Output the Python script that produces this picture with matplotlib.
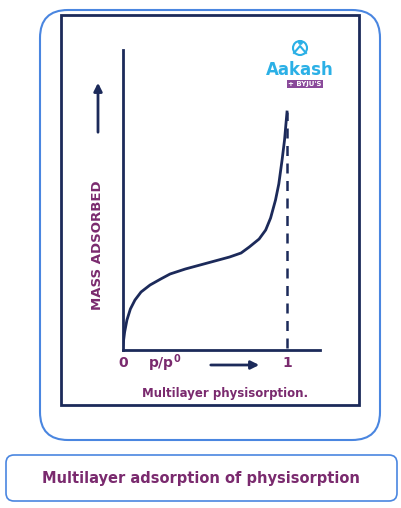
import matplotlib.pyplot as plt
from matplotlib.patches import FancyBboxPatch, Rectangle, Circle

# curve (p/p0, mass adsorbed)
p_rel = [0.0, 0.01, 0.024, 0.045, 0.073, 0.11, 0.165, 0.23, 0.287, 0.38, 0.47, 0.56, 0.65, 0.72, 0.77,
         0.83, 0.87, 0.90, 0.93, 0.95, 0.97, 0.985, 1.0]
mass = [0.05, 0.18, 0.30, 0.41, 0.50, 0.58, 0.65, 0.71, 0.76, 0.81, 0.85, 0.89, 0.93, 0.97, 1.03,
        1.11, 1.20, 1.32, 1.50, 1.66, 1.90, 2.10, 2.38]

W, H = 402, 508
purple = '#7a2a6e'
blue = '#4a86e0'
navy = '#1c2a5a'
cyan = '#2bb0e6'

fig = plt.figure(figsize=(W / 100, H / 100), dpi=100)
bg = fig.add_axes([0, 0, 1, 1])
bg.set_xlim(0, W)
bg.set_ylim(H, 0)
bg.axis('off')

bg.add_patch(FancyBboxPatch((40, 10), 340, 430, boxstyle='round,pad=0,rounding_size=28',
                            fc='white', ec=blue, lw=1.5))
bg.add_patch(Rectangle((61, 15), 298, 390, fc='white', ec=navy, lw=2))
bg.add_patch(FancyBboxPatch((6, 455), 391, 46, boxstyle='round,pad=0,rounding_size=8',
                            fc='white', ec=blue, lw=1.2))
bg.text(201, 478, 'Multilayer adsorption of physisorption', color=purple, fontsize=10.5,
        fontweight='bold', ha='center', va='center')
bg.text(225, 393, 'Multilayer physisorption.', color=purple, fontsize=8.5,
        fontweight='bold', ha='center', va='center')
bg.text(123, 363, '0', color=purple, fontsize=10, fontweight='bold', ha='center', va='center')
bg.text(287, 363, '1', color=purple, fontsize=10, fontweight='bold', ha='center', va='center')
bg.text(165, 363, 'p/p$^{\\mathregular{0}}$', color=purple, fontsize=10, fontweight='bold',
        ha='center', va='center')
bg.annotate('', xy=(262, 365), xytext=(208, 365),
            arrowprops=dict(arrowstyle='-|>', color=navy, lw=2, mutation_scale=12))
bg.text(98, 245, 'MASS ADSORBED', color=purple, fontsize=9.5, fontweight='bold',
        rotation=90, ha='center', va='center')
bg.annotate('', xy=(98, 80), xytext=(98, 135),
            arrowprops=dict(arrowstyle='-|>', color=navy, lw=2, mutation_scale=12))
# logo
bg.add_patch(Circle((300, 48), 7, fc='none', ec=cyan, lw=1.5))
bg.plot([294, 300, 306], [53, 46, 53], color=cyan, lw=1.5)
bg.plot([300], [42], 'o', color=cyan, ms=2.5)
bg.text(300, 70, 'Aakash', color=cyan, fontsize=12, fontweight='bold', ha='center', va='center')
bg.text(305, 84, '+ BYJU\'S', color='white', fontsize=5, fontweight='bold', ha='center', va='center',
        bbox=dict(boxstyle='square,pad=0.2', fc='#8a4a9a', ec='none'))

# data axes: x 0..1.2 maps px 123..320, y 0..3 maps px 350..50
ax = fig.add_axes([123 / W, 1 - 350 / H, 197 / W, 300 / H])
ax.set_xlim(0, 197 / 164)
ax.set_ylim(0, 3)
ax.patch.set_alpha(0)
for s in ['top', 'right']:
    ax.spines[s].set_visible(False)
for s in ['left', 'bottom']:
    ax.spines[s].set_color(navy)
    ax.spines[s].set_linewidth(2)
ax.set_xticks([])
ax.set_yticks([])
ax.plot(p_rel, mass, color=navy, lw=2)
ax.plot([1, 1], [0.02, mass[-1]], color=navy, lw=1.8, ls=(0, (4, 3)))

fig.savefig('out.png', dpi=100)
